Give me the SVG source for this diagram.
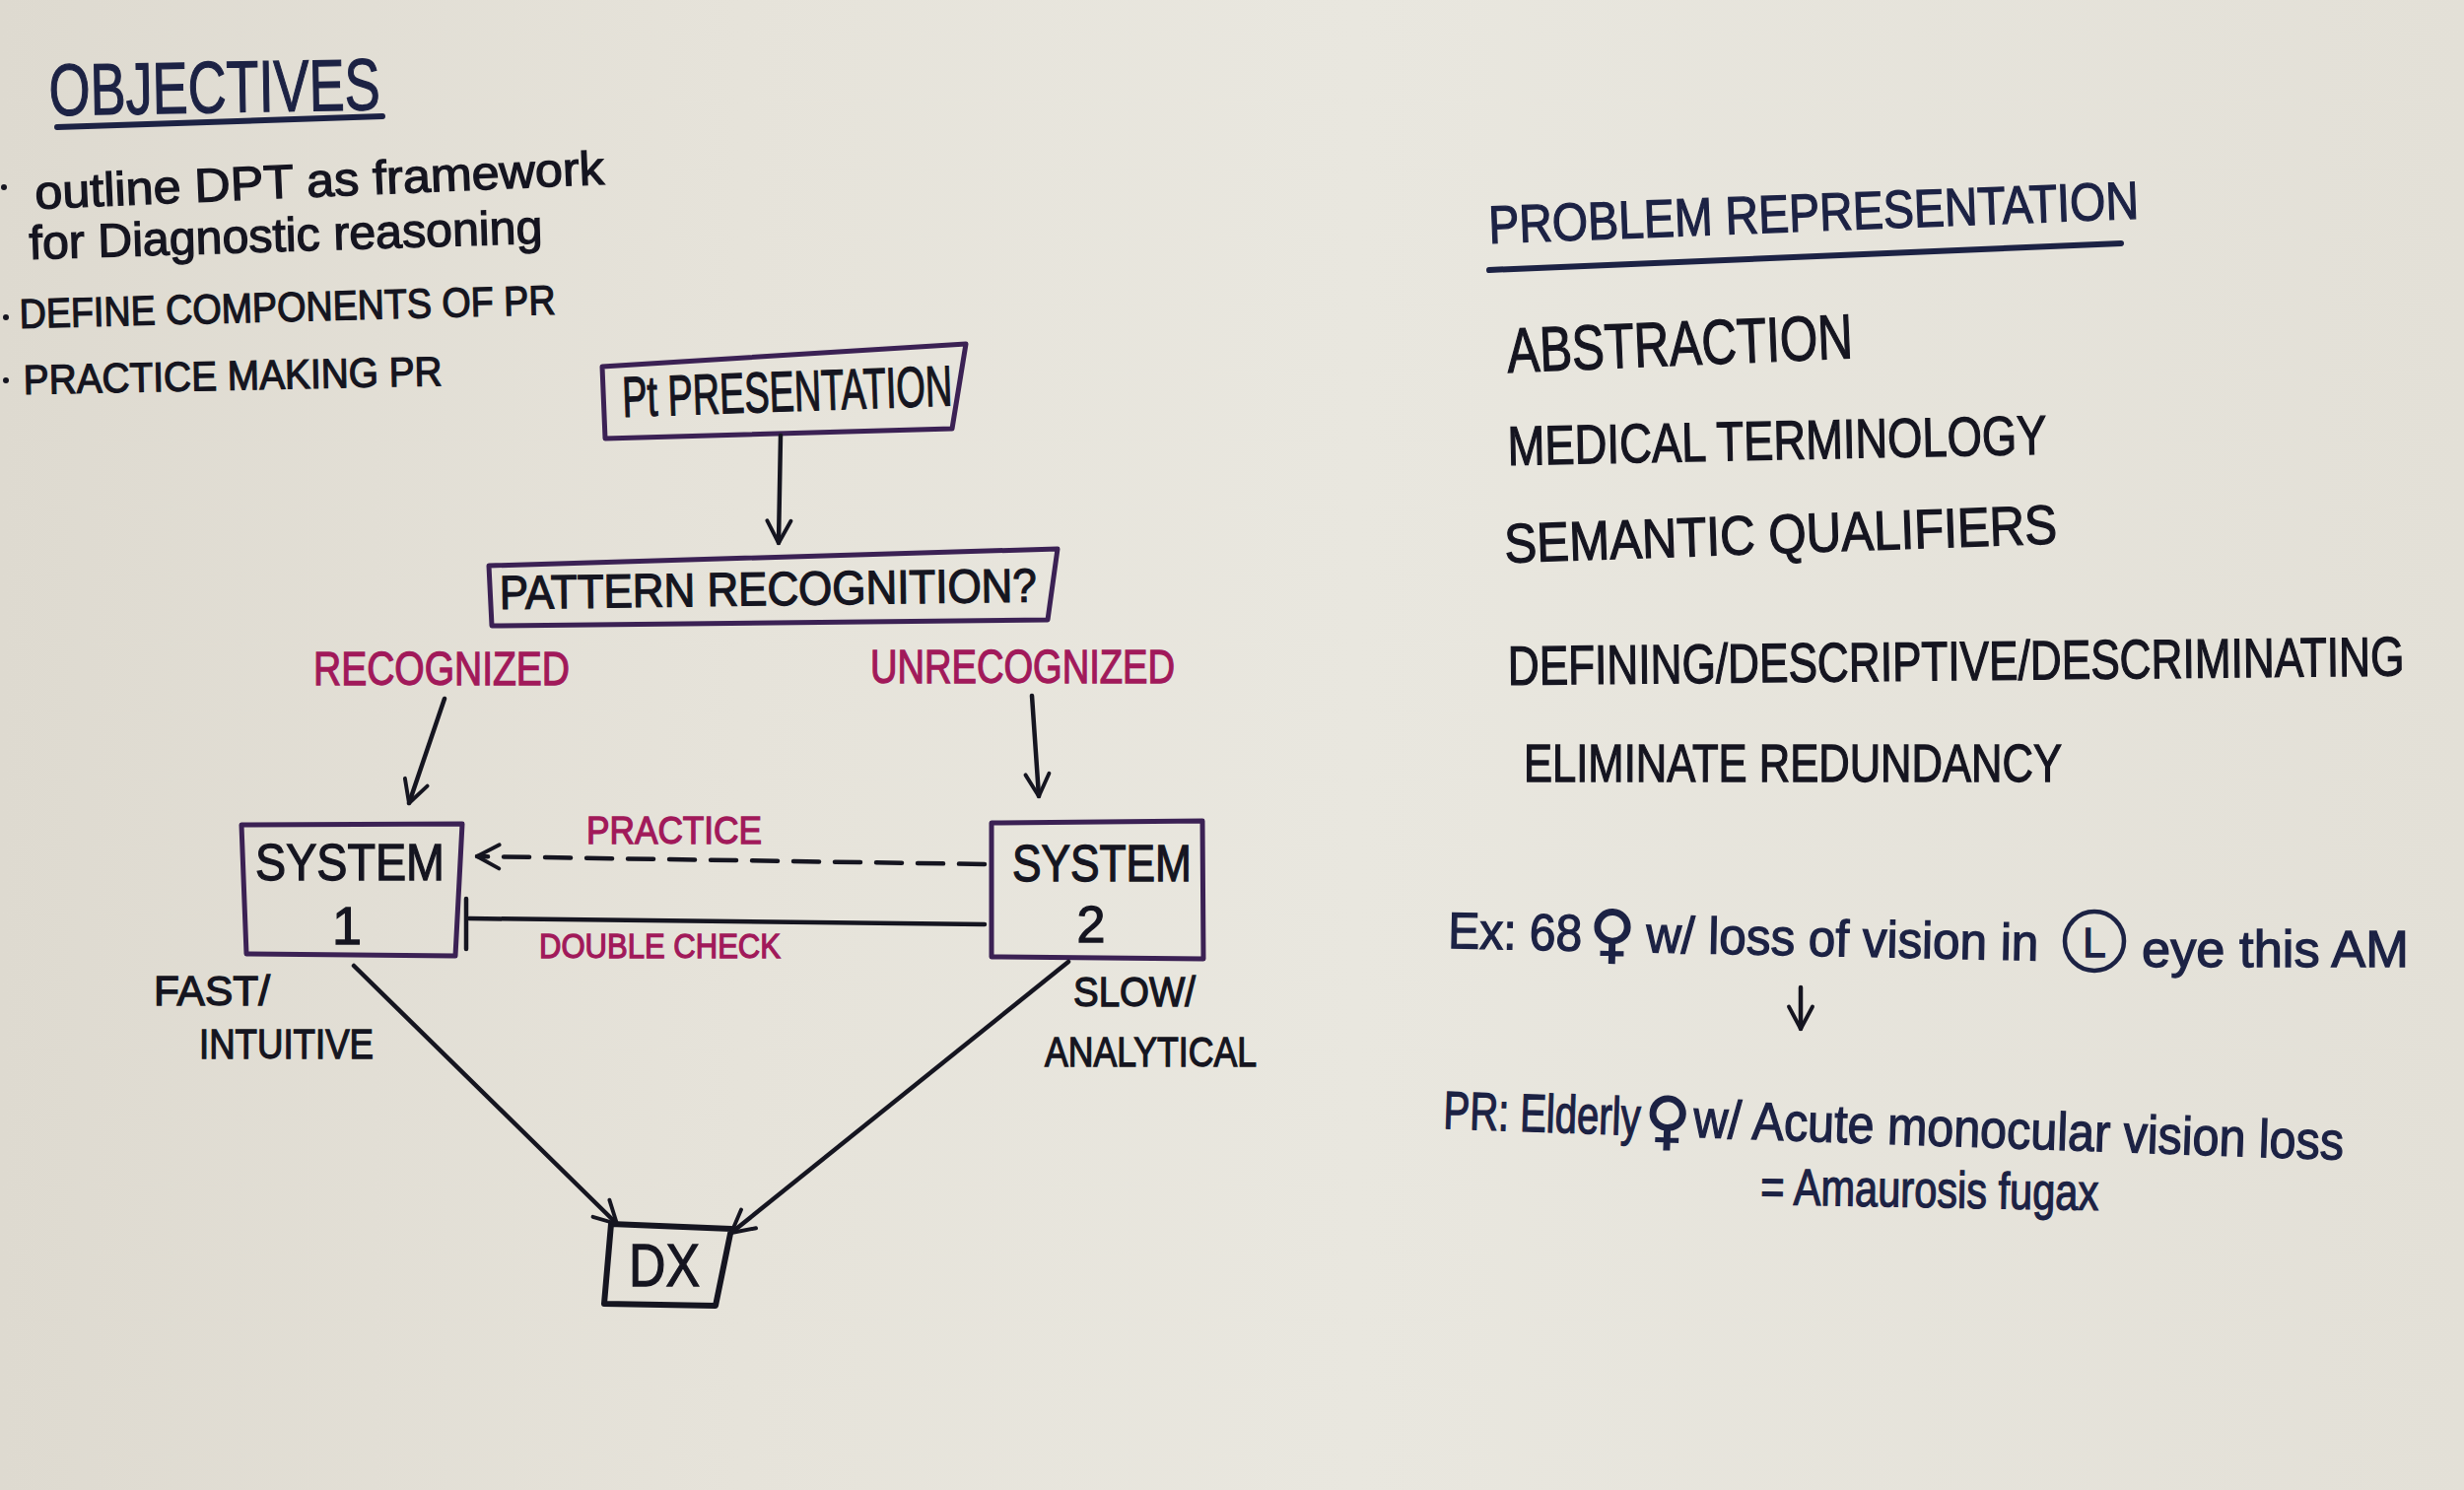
<svg xmlns="http://www.w3.org/2000/svg" width="2500" height="1512" viewBox="0 0 2500 1512">
<defs>
<linearGradient id="bg" x1="0" y1="0" x2="1" y2="0">
<stop offset="0" stop-color="#dedad0"/>
<stop offset="0.3" stop-color="#e6e3da"/>
<stop offset="0.55" stop-color="#e9e7df"/>
<stop offset="1" stop-color="#e3e0d7"/>
</linearGradient>
<marker id="arr" viewBox="0 0 20 20" refX="18" refY="10" markerWidth="30" markerHeight="30" markerUnits="userSpaceOnUse" orient="auto">
<path d="M3,2 L18,10 L3,18" fill="none" stroke="#151520" stroke-width="2.6" stroke-dasharray="none" stroke-linecap="round" stroke-linejoin="round"/>
</marker>
<style>
.ink{font-family:"Liberation Sans","DejaVu Sans",sans-serif;fill:#151520;stroke:#151520;stroke-width:1.3}
.navy{font-family:"Liberation Sans","DejaVu Sans",sans-serif;fill:#1c2244;stroke:#1c2244;stroke-width:1.3}
.mag{font-family:"Liberation Sans","DejaVu Sans",sans-serif;fill:#a1195a;stroke:#a1195a;stroke-width:1.3}
.sym{font-family:"DejaVu Sans",sans-serif;font-size:64px}
.box{fill:none;stroke:#3b2154;stroke-width:5;stroke-linejoin:round}
.dxbox{fill:none;stroke:#151520;stroke-width:6;stroke-linejoin:round}
.con{fill:none;stroke:#151520;stroke-width:4.5;stroke-linecap:round}
.rule{fill:none;stroke:#1c2244;stroke-width:6;stroke-linecap:round}
</style>
</defs>
<rect x="0" y="0" width="2500" height="1512" fill="url(#bg)"/>

<g id="objectives">
<text class="navy" x="50" y="117" font-size="74" textLength="336" lengthAdjust="spacingAndGlyphs" transform="rotate(-1,50,117)">OBJECTIVES</text>
<path class="rule" d="M58,129 L388,118"/>
<circle cx="4" cy="190" r="3" fill="#151520"/>
<text class="ink" x="36" y="212" font-size="48" textLength="578" lengthAdjust="spacingAndGlyphs" transform="rotate(-2.5,36,212)">outline DPT as framework</text>
<text class="ink" x="30" y="263" font-size="48" textLength="521" lengthAdjust="spacingAndGlyphs" transform="rotate(-1.8,30,263)">for Diagnostic reasoning</text>
<circle cx="6" cy="322" r="3" fill="#151520"/>
<text class="ink" x="20" y="333" font-size="42" textLength="544" lengthAdjust="spacingAndGlyphs" transform="rotate(-1.5,20,333)">DEFINE COMPONENTS OF PR</text>
<circle cx="6" cy="386" r="3" fill="#151520"/>
<text class="ink" x="24" y="400" font-size="42" textLength="425" lengthAdjust="spacingAndGlyphs" transform="rotate(-1.2,24,400)">PRACTICE MAKING PR</text>
</g>

<g id="pt-presentation">
<path class="box" d="M611,372 L980,349 L966,435 L614,445 Z"/>
<text class="ink" x="632" y="423" font-size="58" textLength="335" lengthAdjust="spacingAndGlyphs" transform="rotate(-2,632,423)">Pt PRESENTATION</text>
</g>

<g id="pattern-recognition">
<path class="box" d="M496,574 L1073,557 L1063,629 L499,635 Z"/>
<text class="ink" x="507" y="618" font-size="48" textLength="545" lengthAdjust="spacingAndGlyphs" transform="rotate(-0.8,507,618)">PATTERN RECOGNITION?</text>
</g>

<g id="system1">
<path class="box" d="M245,837 L469,836 L462,970 L250,968 Z"/>
<text class="ink" x="259" y="893" font-size="52" textLength="192" lengthAdjust="spacingAndGlyphs">SYSTEM</text>
<text class="ink" x="352" y="958" font-size="54" text-anchor="middle">1</text>
<text class="ink" x="156" y="1020" font-size="42" textLength="118" lengthAdjust="spacingAndGlyphs">FAST/</text>
<text class="ink" x="202" y="1074" font-size="42" textLength="177" lengthAdjust="spacingAndGlyphs">INTUITIVE</text>
</g>

<g id="system2">
<path class="box" d="M1006,835 L1220,833 L1221,973 L1006,971 Z"/>
<text class="ink" x="1027" y="894" font-size="52" textLength="182" lengthAdjust="spacingAndGlyphs">SYSTEM</text>
<text class="ink" x="1107" y="956" font-size="52" text-anchor="middle">2</text>
<text class="ink" x="1089" y="1021" font-size="42" textLength="124" lengthAdjust="spacingAndGlyphs">SLOW/</text>
<text class="ink" x="1060" y="1082" font-size="42" textLength="215" lengthAdjust="spacingAndGlyphs">ANALYTICAL</text>
</g>

<g id="dx">
<path class="dxbox" d="M620,1242 L742,1247 L726,1325 L613,1323 Z"/>
<text class="ink" x="638" y="1305" font-size="62" textLength="72" lengthAdjust="spacingAndGlyphs">DX</text>
</g>

<g id="connectors">
<path class="con" d="M792,442 L790,551" marker-end="url(#arr)"/>
<path class="con" d="M451,709 L415,815" marker-end="url(#arr)"/>
<path class="con" d="M1047,706 L1054,808" marker-end="url(#arr)"/>
<path class="con" d="M999,877 L484,869" stroke-width="6" stroke-dasharray="26 16" marker-end="url(#arr)"/>
<path class="con" d="M999,938 L476,932" stroke-width="5.5"/>
<path class="con" d="M473,912 L473,963" stroke-width="5"/>
<path class="con" d="M359,980 L626,1242" marker-end="url(#arr)"/>
<path class="con" d="M1084,976 L742,1251" stroke-width="5" marker-end="url(#arr)"/>
<path class="con" d="M1827,1002 L1827,1044" stroke="#1c2244" stroke-width="4" marker-end="url(#arr)"/>
<text class="mag" x="318" y="695" font-size="48" textLength="260" lengthAdjust="spacingAndGlyphs">RECOGNIZED</text>
<text class="mag" x="883" y="693" font-size="48" textLength="309" lengthAdjust="spacingAndGlyphs">UNRECOGNIZED</text>
<text class="mag" x="595" y="856" font-size="38" textLength="178" lengthAdjust="spacingAndGlyphs">PRACTICE</text>
<text class="mag" x="547" y="972" font-size="35" textLength="245" lengthAdjust="spacingAndGlyphs">DOUBLE CHECK</text>
</g>

<g id="problem-representation">
<text class="navy" x="1511" y="247" font-size="54" textLength="660" lengthAdjust="spacingAndGlyphs" transform="rotate(-2.2,1511,247)">PROBLEM REPRESENTATION</text>
<path class="rule" d="M1511,274 L2152,247" stroke-width="5"/>
<text class="ink" x="1530" y="378" font-size="64" textLength="351" lengthAdjust="spacingAndGlyphs" transform="rotate(-2.4,1530,378)">ABSTRACTION</text>
<text class="ink" x="1530" y="472" font-size="56" textLength="547" lengthAdjust="spacingAndGlyphs" transform="rotate(-1.2,1530,472)">MEDICAL TERMINOLOGY</text>
<text class="ink" x="1527" y="571" font-size="56" textLength="561" lengthAdjust="spacingAndGlyphs" transform="rotate(-2,1527,571)">SEMANTIC QUALIFIERS</text>
<text class="ink" x="0" y="0" font-size="56" transform="translate(1530,695) rotate(-0.6) scale(0.789,1)">DEFINING/DESCRIPTIVE/DESCRIMINATING</text>
<text class="ink" x="1546" y="793" font-size="54" textLength="546" lengthAdjust="spacingAndGlyphs">ELIMINATE REDUNDANCY</text>
</g>

<g id="example">
<text class="navy" x="1469" y="962" font-size="52" transform="rotate(1.2,1469,962)"><tspan textLength="136" lengthAdjust="spacingAndGlyphs">Ex: 68</tspan><tspan class="sym" x="1612" dy="4">♀</tspan><tspan x="1670" dy="-4" textLength="398" lengthAdjust="spacingAndGlyphs">w/ loss of vision in</tspan></text>
<circle cx="2125" cy="955" r="30" fill="none" stroke="#1c2244" stroke-width="4.5"/>
<text class="navy" x="2125" y="971" font-size="42" text-anchor="middle">L</text>
<text class="navy" x="2173" y="981" font-size="52" textLength="271" lengthAdjust="spacingAndGlyphs">eye this AM</text>
<text class="navy" x="1464" y="1145" font-size="54" transform="rotate(2,1464,1145)"><tspan textLength="200" lengthAdjust="spacingAndGlyphs">PR: Elderly</tspan><tspan class="sym" x="1668" dy="6">♀</tspan><tspan x="1718" dy="-6" textLength="660" lengthAdjust="spacingAndGlyphs">w/ Acute monocular vision loss</tspan></text>
<text class="navy" x="1786" y="1222" font-size="52" textLength="343" lengthAdjust="spacingAndGlyphs" transform="rotate(1,1786,1222)">= Amaurosis fugax</text>
</g>
</svg>
